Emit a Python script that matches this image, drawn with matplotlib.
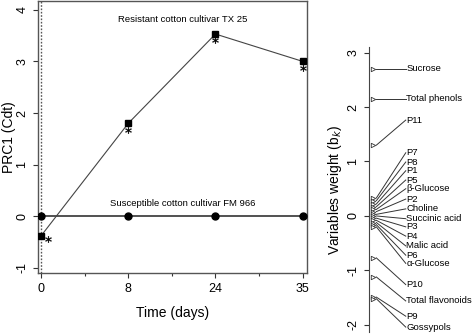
import numpy as np
import matplotlib.pyplot as plt

plt.rcParams['font.family'] = ['Liberation Sans', 'DejaVu Sans']

# left panel: PRC
days = ["0", "8", "24", "35"]
resistant = [-0.38, 1.8, 3.53, 3.0]
susceptible = [0, 0, 0, 0]
star_x = [0.08, 0.0, 0.0, 0.0]
star_y = [-0.45, 1.68, 3.41, 2.88]

# right panel: variable weights
var_names = ["Sucrose", "Total phenols", "P11", "P7", "P8", "P1", "P5", "β-Glucose",
             "P2", "Choline", "Succinic acid", "P3", "P4", "Malic acid", "P6",
             "α-Glucose", "P10", "Total flavonoids", "P9", "Gossypols"]
weights = [2.70, 2.15, 1.30, 0.33, 0.28, 0.22, 0.17, 0.12, 0.08, 0.03, 0.0,
           -0.04, -0.08, -0.12, -0.16, -0.2, -0.77, -1.12, -1.49, -1.52]
label_y = [2.70, 2.15, 1.76, 1.16, 0.99, 0.83, 0.66, 0.50, 0.31, 0.13, -0.05,
           -0.20, -0.37, -0.55, -0.72, -0.87, -1.26, -1.56, -1.84, -2.04]

fig = plt.figure(figsize=(4.74, 3.34), dpi=100)

ax = fig.add_axes([0.0802, 0.1826, 0.5675, 0.8144])
pos = np.arange(len(days))
ax.axhline(0, color='#333333', lw=1.2, zorder=1)
ax.axvline(0, color='#555555', lw=1.0, ls=(0, (1.2, 1.2)), zorder=1)
ax.plot(pos, resistant, color='#444444', lw=0.8, marker='s', ms=5,
        mfc='black', mec='black', zorder=3)
ax.plot(pos, susceptible, ls='none', marker='o', ms=5, color='black', zorder=3)
ax.plot(pos + np.array(star_x), star_y, ls='none', marker='$*$', ms=4.5,
        color='black', mew=0.3)
ax.text(1.62, 3.82, "Resistant cotton cultivar TX 25", ha='center', va='center',
        fontsize=6.8)
ax.text(1.62, 0.25, "Susceptible cotton cultivar FM 966", ha='center', va='center',
        fontsize=6.8)

ax.set_xlim(-0.035, 3.05)
ax.set_ylim(-1.1, 4.17)
ax.set_xticks(pos)
ax.set_xticklabels(days, fontsize=9)
ax.set_xticks(pos[:-1] + 0.5, minor=True)
ax.set_yticks([-1, 0, 1, 2, 3, 4])
ax.set_yticklabels(["-1", "0", "1", "2", "3", "4"], rotation=90, va='center', fontsize=9)
ax.tick_params(which='both', direction='out', length=3.5, width=0.8, color='#333333')
ax.tick_params(which='minor', length=2.5)
ax.set_xlabel("Time (days)", fontsize=10, labelpad=8)
ax.set_ylabel("PRC1 (Cdt)", fontsize=10)
ax.yaxis.set_label_coords(-0.08, 0.5)
for s in ax.spines.values():
    s.set_color('#555555')
    s.set_linewidth(1.0)

# right panel
ax2 = fig.add_axes([0.7785, 0.006, 0.2215, 0.853])
ax2.set_xlim(0, 1)
ax2.set_ylim(-2.13, 3.1)
for w, ly, name in zip(weights, label_y, var_names):
    ax2.plot([0.07, 0.35], [w, ly], color='#333333', lw=0.7)
    ax2.text(0.355, ly, name, fontsize=6.8, va='center', ha='left')
ax2.plot([0.04] * len(weights), weights, ls='none', marker='>', ms=3.2,
         mfc='white', mec='#333333', mew=0.6, zorder=3)
for s in ['top', 'right', 'bottom']:
    ax2.spines[s].set_visible(False)
ax2.spines['left'].set_color('#444444')
ax2.spines['left'].set_bounds(-2.13, 3.1)
ax2.set_xticks([])
ax2.set_yticks([-2, -1, 0, 1, 2, 3])
ax2.set_yticklabels(["-2", "-1", "0", "1", "2", "3"], rotation=90, va='center', fontsize=9)
ax2.tick_params(direction='out', length=3.5, width=0.8, color='#333333')
ax2.set_ylabel("Variables weight (b$_k$)", fontsize=10)
ax2.yaxis.set_label_coords(-0.24, 0.5)

fig.savefig("out.png", dpi=100)
